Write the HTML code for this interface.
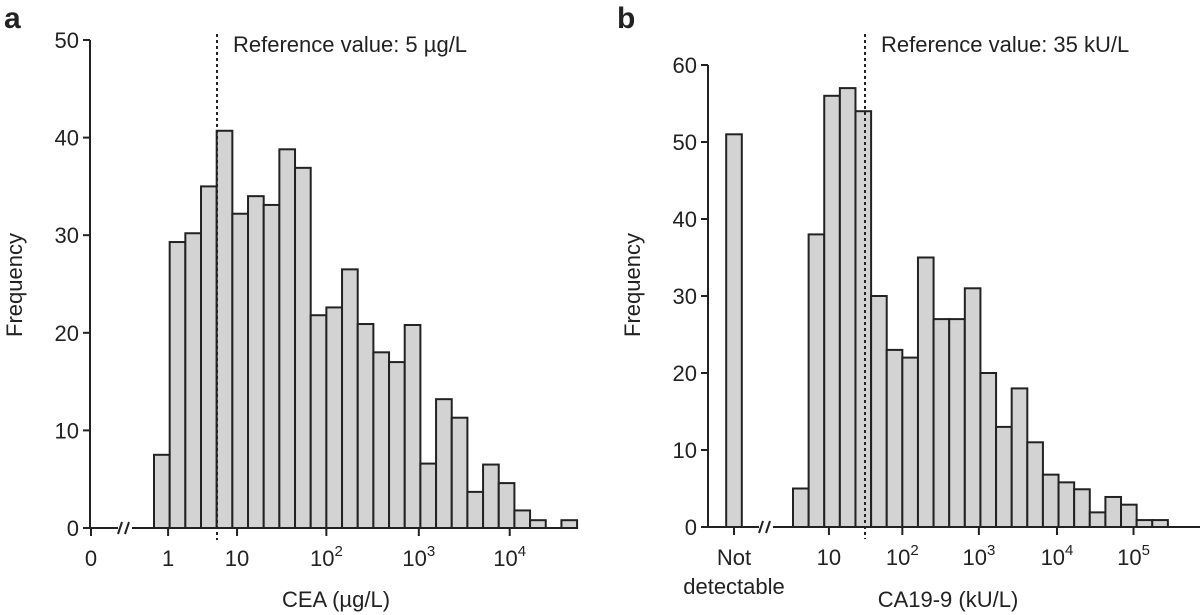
<!DOCTYPE html>
<html><head><meta charset="utf-8"><style>
body{margin:0;background:#fff;}
svg{display:block;font-family:"Liberation Sans",sans-serif;fill:#222;}
</style></head><body>
<svg id="chart" width="1200" height="615" viewBox="0 0 1200 615">
<text x="4" y="28" font-size="30" font-weight="bold">a</text>
<text x="617" y="28" font-size="30" font-weight="bold">b</text>
<g id="pa"></g>
<g id="pb"></g>
</svg>
<script>
// Panel a data (CEA)
const aCounts=[7.5,29.3,30.2,35,40.7,32.2,34,33.1,38.8,36.9,21.8,22.6,26.5,20.9,18,17,20.8,6.6,13.2,11.3,3.7,6.5,4.6,1.8,0.8,0,0.8];
const aYTicks=[0,10,20,30,40,50];
const aXTickLabels=["1","10","10^2","10^3","10^4"];
const aXTickBins=[0.9,5.3,11,16.9,22.7];
// Panel b data (CA19-9)
const bCounts=[5,38,56,57,54,30,23,22,35,27,27,31,20,13,18,11,6.8,5.8,4.9,1.9,3.9,2.9,0.9,0.9];
const bNotDetectable=[51];
const bYTicks=[0,10,20,30,40,50,60];
const bXTickLabels=["10","10^2","10^3","10^4","10^5"];
const bXTickBins=[2.3,7.0,11.9,16.9,21.8];

const NS="http://www.w3.org/2000/svg";
const FS=22;
function mk(p,t,a){const e=document.createElementNS(NS,t);for(const k in a)e.setAttribute(k,a[k]);p.appendChild(e);return e;}
function lab(p,x,y,s,anchor){const t=mk(p,"text",{x:x,y:y,"font-size":FS,"text-anchor":anchor||"middle"});
 const m=s.split("^");t.appendChild(document.createTextNode(m[0]));
 if(m[1]){const ts=mk(t,"tspan",{dy:-10,"font-size":15});ts.textContent=m[1];}return t;}

function panel(g,o){
 const y=v=>o.y0-v*o.ppu;
 const x=i=>o.bx0+i*o.bw;
 o.counts.forEach((c,i)=>{if(c<=0)return;
  const r=mk(g,"rect",{x:x(i),y:y(c),width:o.bw,height:o.y0-y(c),fill:"#d3d3d3",stroke:"#222","stroke-width":2});
  
  });
 if(o.nd){o.nd.forEach(c=>{const r=mk(g,"rect",{x:o.ndx-o.bw/2,y:y(c),width:o.bw,height:o.y0-y(c),fill:"#d3d3d3",stroke:"#222","stroke-width":2});
  
  });}
 const ya=mk(g,"line",{x1:o.ax,y1:y(o.yTicks[o.yTicks.length-1]),x2:o.ax,y2:o.y0,stroke:"#222","stroke-width":2});
 
 const xa1=mk(g,"line",{x1:o.ax,y1:o.y0,x2:o.brk-4,y2:o.y0,stroke:"#222","stroke-width":2});
 
 mk(g,"line",{x1:o.brk+10,y1:o.y0,x2:o.axEnd,y2:o.y0,stroke:"#222","stroke-width":2});
 mk(g,"line",{x1:o.brk-4,y1:o.y0+6,x2:o.brk,y2:o.y0-6,stroke:"#222","stroke-width":2});
 mk(g,"line",{x1:o.brk+3,y1:o.y0+6,x2:o.brk+7,y2:o.y0-6,stroke:"#222","stroke-width":2});
 o.yTicks.forEach(v=>{mk(g,"line",{x1:o.ax-7,y1:y(v),x2:o.ax,y2:y(v),stroke:"#222","stroke-width":2});
  const t=lab(g,o.ax-11,y(v)+8,String(v),"end");});
 o.xBins.forEach((b,i)=>{const px=x(b);mk(g,"line",{x1:px,y1:o.y0,x2:px,y2:o.y0+8,stroke:"#222","stroke-width":2});
  const t=lab(g,px,o.y0+38,o.xLabels[i]);});
 const d=mk(g,"line",{x1:o.refx,y1:34,x2:o.refx,y2:o.y0+12,stroke:"#222","stroke-width":2,"stroke-dasharray":"3,3"});
 
 const rt=lab(g,o.refx+16,52,o.refText,"start");
 const yt=mk(g,"text",{x:0,y:0,"font-size":FS,"text-anchor":"middle",transform:`translate(${o.ytx},285) rotate(-90)`});
 yt.textContent="Frequency";
 const xt=lab(g,o.xtx,607,o.xTitle);
}
panel(document.getElementById("pa"),{counts:aCounts,y0:528,ppu:9.76,bx0:154,bw:15.67,ax:90,axEnd:578,brk:122,
 yTicks:aYTicks,xLabels:aXTickLabels,xBins:aXTickBins,refx:217,refText:"Reference value: 5 µg/L",ytx:22,xtx:336,xTitle:"CEA (µg/L)"});
(function(){const g=document.getElementById("pa");mk(g,"line",{x1:91,y1:528,x2:91,y2:536,stroke:"#222","stroke-width":2});
 const t=lab(g,91,566,"0");})();
panel(document.getElementById("pb"),{counts:bCounts,nd:bNotDetectable,ndx:734,y0:527,ppu:7.7,bx0:793,bw:15.62,ax:708,axEnd:1200,brk:763,
 yTicks:bYTicks,xLabels:bXTickLabels,xBins:bXTickBins,refx:865,refText:"Reference value: 35 kU/L",ytx:640,xtx:948,xTitle:"CA19-9 (kU/L)"});
(function(){const g=document.getElementById("pb");mk(g,"line",{x1:734,y1:527,x2:734,y2:535,stroke:"#222","stroke-width":2});
 const t1=lab(g,734,565,"Not");
 const t2=lab(g,734,594,"detectable");})();
</script>
</body></html>
